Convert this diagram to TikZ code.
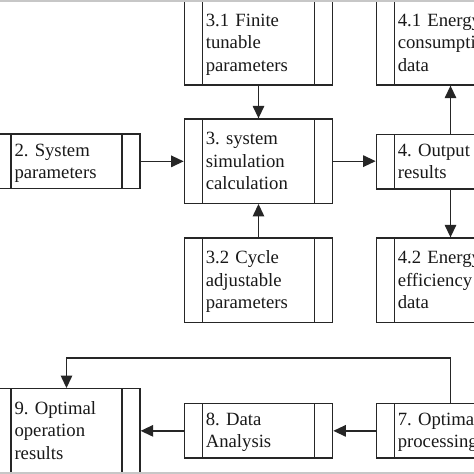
\documentclass[tikz,border=0pt]{standalone}
\usepackage{fontspec}
\setmainfont{Liberation Serif}
\usetikzlibrary{arrows.meta}
\frenchspacing
\begin{document}
\begin{tikzpicture}[x=1pt,y=-1pt,
  line width=1.3pt,
  proc/.style={draw=black!85, rectangle, minimum width=148.4pt, inner xsep=21.5pt, inner ysep=0pt,
    text width=105.4pt, align=left, text=black!90,
    font=\fontsize{18.7pt}{22.3pt}\selectfont\frenchspacing,
    execute at begin node={\rule{0pt}{17.1pt}}, execute at end node={\rule[-5.2pt]{0pt}{5.2pt}},
    path picture={\draw[black!85,line width=1.3pt]
      ([xshift=18pt]path picture bounding box.north west) -- ([xshift=18pt]path picture bounding box.south west)
      ([xshift=-18pt]path picture bounding box.north east) -- ([xshift=-18pt]path picture bounding box.south east);}},
  tallbox/.style={minimum height=84.3pt},
  shortbox/.style={minimum height=54.5pt},
  narrowbox/.style={minimum width=147pt, text width=104pt},
  arr/.style={-{Triangle[length=12.5pt,width=11.5pt]}, line width=1.3pt, draw=black!85}
]
\useasboundingbox (0,0) rectangle (474,474);
\fill[white] (0,0) rectangle (474,474);
\clip (0,0) rectangle (474,474);

% top row
\node[proc,tallbox] (b31) at (258.5,42.85) {3.1 Finite\\tunable\\parameters};
\node[proc,tallbox] (b41) at (450.5,42.85) {4.1 Energy\\consumption\\data};
% middle row
\node[proc,shortbox,narrowbox] (b2) at (66.5,161.35) {2. System\\parameters};
\node[proc,tallbox] (b3) at (258.5,161.15) {3. system\\simulation\\calculation};
\node[proc,shortbox] (b4) at (450.5,161.7) {4. Output\\results};
% lower row
\node[proc,tallbox] (b32) at (258.5,280.15) {3.2 Cycle\\adjustable\\parameters};
\node[proc,tallbox] (b42) at (450.5,280.15) {4.2 Energy\\efficiency\\data};
% bottom row
\node[proc,tallbox,narrowbox] (b9) at (66.5,430.85) {9. Optimal\\operation\\results};
\node[proc,shortbox] (b8) at (258.5,430.85) {8. Data\\Analysis};
\node[proc,shortbox] (b7) at (450.5,430.85) {7. Optimal\\processing};

% connectors
\draw[arr] (b2.east) -- (b2.east -| b3.west);
\draw[arr] (b31.south) -- (b3.north);
\draw[arr] (b32.north) -- (b3.south);
\draw[arr] (b3.east) -- (b3.east -| b4.west);
\draw[arr] (b4.north) -- (b41.south);
\draw[arr] (b4.south) -- (b42.north);
\draw[arr] (b7.west) -- (b8.east);
\draw[arr] (b8.west) -- (b8.west -| b9.east);
\coordinate (turn) at (450.5,358);
\draw[arr] (b7.north) -- (turn) -| (b9.north);

% grey edge bands
\fill[black!22] (0,0) rectangle (474,2.3);
\fill[black!22] (0,471.5) rectangle (474,474);
\end{tikzpicture}
\end{document}
